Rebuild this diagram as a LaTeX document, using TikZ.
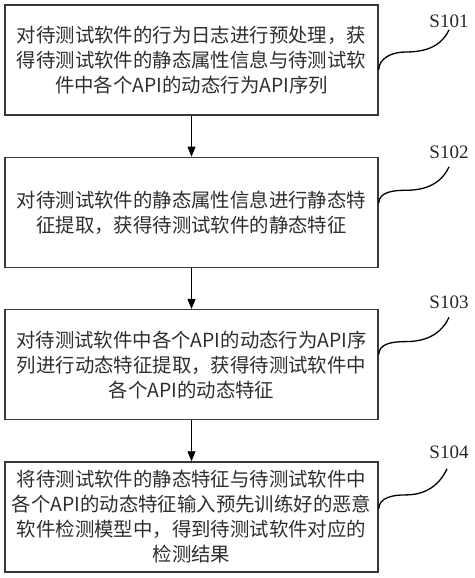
\documentclass[tikz,border=0pt]{standalone}
\usepackage{fontspec}
\setmainfont{Liberation Serif}
\newfontfamily\cjkfont{Noto Sans CJK SC}
\usetikzlibrary{arrows.meta,positioning}

\begin{document}
\begin{tikzpicture}[x=1pt,y=1pt,->,>={Triangle[length=10pt,width=8pt]},node distance=41pt,thick,
  task node/.style={rectangle,draw=black!78,line width=1.3pt,minimum width=373pt,minimum height=110pt,
    text width=370pt,align=center,inner sep=0pt,text=black!82,font=\cjkfont\fontsize{19.4}{25}\selectfont},
  tag node/.style={inner sep=0pt,text=black!85,font=\fontsize{19}{22}\selectfont},
  lead/.style={-,line width=1.3pt}]
  \useasboundingbox (0,0) rectangle (474,-578);

  \node[task node] (b1) at (191.5,-60) {对待测试软件的行为日志进行预处理，获\\得待测试软件的静态属性信息与待测试软\\件中各个API的动态行为API序列};
  \node[task node] (b2) [below=of b1] {对待测试软件的静态属性信息进行静态特\\征提取，获得待测试软件的静态特征};
  \node[task node] (b3) [below=of b2] {对待测试软件中各个API的动态行为API序\\列进行动态特征提取，获得待测试软件中\\各个API的动态特征};
  \node[task node] (b4) [below=of b3] {将待测试软件的静态特征与待测试软件中\\各个API的动态特征输入预先训练好的恶意\\软件检测模型中，得到待测试软件对应的\\检测结果};

  \node[tag node] (s1) at (449,-21) {S101};
  \node[tag node] (s2) at (449,-152) {S102};
  \node[tag node] (s3) at (449,-302.5) {S103};
  \node[tag node] (s4) at (449,-452) {S104};

  \path
    (b1) edge (b2)
    (b2) edge (b3)
    (b3) edge (b4)
    ;

  % leader lines
  \draw[lead] ([yshift=-10pt]b1.east) to[out=88,in=180] ++(27,18) to[out=0,in=-115] ([yshift=-2pt]s1.south);
  \draw[lead] ([yshift=9pt]b2.east) to[out=88,in=180] ++(27,13) to[out=0,in=-115] ([yshift=-8pt]s2.south);
  \draw[lead] ([yshift=10pt]b3.east) to[out=88,in=180] ++(27,13) to[out=0,in=-115] ([yshift=-8pt]s3.south);
  \draw[lead] ([yshift=8pt]b4.east) to[out=88,in=180] ++(27,14) to[out=0,in=-115] ([xshift=-2pt,yshift=-10pt]s4.south);
\end{tikzpicture}
\end{document}
